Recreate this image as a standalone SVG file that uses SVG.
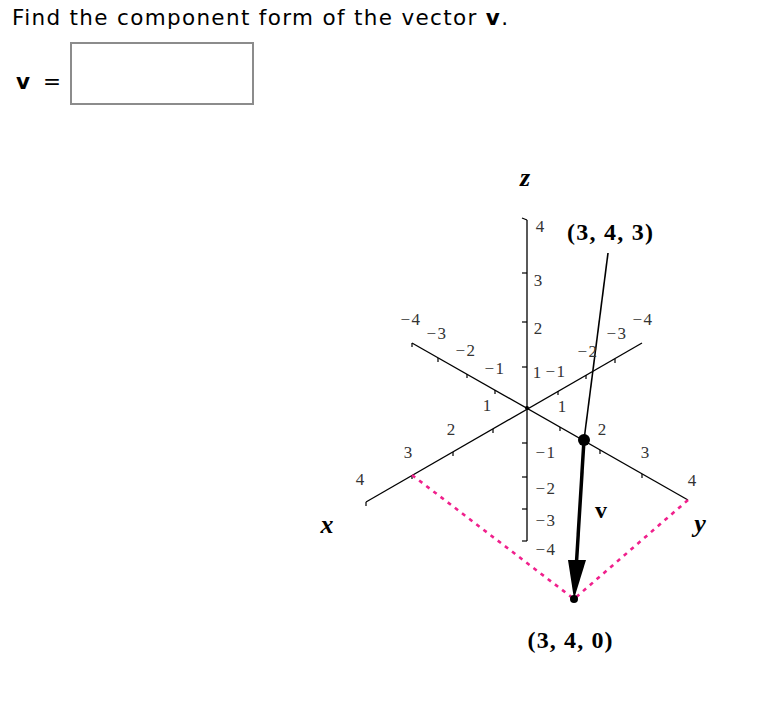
<svg xmlns="http://www.w3.org/2000/svg" width="784" height="706" viewBox="0 0 784 706">
<style>
.hdr{font-family:"DejaVu Sans","Liberation Sans",sans-serif;font-size:21.5px;fill:#000}
.tk{font-family:"Liberation Serif",serif;font-size:17px;fill:#333;text-anchor:middle}
.neg{letter-spacing:1.5px}
.ax{font-family:"Liberation Serif",serif;font-size:26px;font-weight:bold;font-style:italic;fill:#000;text-anchor:middle}
.pt{font-family:"Liberation Serif",serif;font-size:24px;font-weight:bold;fill:#000;text-anchor:middle}
.axis{stroke:#000;stroke-width:1.3;fill:none}
.tick{stroke:#000;stroke-width:1.2}
.pink{stroke:#f0208c;stroke-width:2.6;stroke-dasharray:4 5;fill:none}
</style>
<rect width="784" height="706" fill="#fff"/>
<g id="header">
<text class="hdr" x="12" y="25" textLength="496" lengthAdjust="spacing">Find the component form of the vector <tspan font-weight="bold">v</tspan>.</text>
<text class="hdr" x="16" y="89" font-weight="bold">v</text>
<text class="hdr" x="43" y="89">=</text>
<rect x="71" y="43" width="182" height="61" fill="#fff" stroke="#8c8c8c" stroke-width="2"/>
</g>
<g id="connectors">
<line id="z-axis" class="axis" x1="527" y1="220" x2="527" y2="541"/>
<line id="lineA" class="axis" x1="412" y1="343" x2="688" y2="500"/>
<line id="lineB" class="axis" x1="642" y1="343" x2="366" y2="502"/>
<g id="ticks">
<line class="tick" x1="522" y1="218" x2="527" y2="220"/>
<line class="tick" x1="522" y1="273" x2="527" y2="273"/>
<line class="tick" x1="522" y1="322" x2="527" y2="322"/>
<line class="tick" x1="522" y1="367" x2="527" y2="367"/>
<line class="tick" x1="522" y1="443" x2="527" y2="443"/>
<line class="tick" x1="522" y1="477" x2="527" y2="477"/>
<line class="tick" x1="522" y1="509" x2="527" y2="509"/>
<line class="tick" x1="522" y1="541" x2="527" y2="541"/>
<line class="tick" x1="412" y1="343" x2="412" y2="347"/>
<line class="tick" x1="438" y1="358" x2="438" y2="362"/>
<line class="tick" x1="467" y1="374" x2="467" y2="378"/>
<line class="tick" x1="495" y1="390" x2="495" y2="394"/>
<line class="tick" x1="560" y1="427" x2="560" y2="431"/>
<line class="tick" x1="600" y1="450" x2="600" y2="454"/>
<line class="tick" x1="642" y1="474" x2="642" y2="478"/>
<line class="tick" x1="558" y1="391" x2="558" y2="395"/>
<line class="tick" x1="586" y1="375" x2="586" y2="379"/>
<line class="tick" x1="615" y1="359" x2="615" y2="363"/>
<line class="tick" x1="493" y1="429" x2="493" y2="433"/>
<line class="tick" x1="453" y1="452" x2="453" y2="456"/>
<line class="tick" x1="412" y1="475" x2="412" y2="479"/>
<line class="tick" x1="366" y1="502" x2="366" y2="506"/>
</g>
<line id="pink-x" class="pink" x1="412" y1="475" x2="574" y2="599"/>
<line id="pink-y" class="pink" x1="688" y1="500" x2="574" y2="599"/>
<line id="v-upper" x1="608" y1="253" x2="584" y2="440" stroke="#000" stroke-width="1.6"/>
<line id="v-lower" x1="584" y1="440" x2="576.5" y2="562" stroke="#000" stroke-width="3.5"/>
<polygon id="v-head" points="568,560 586,560 574,599" fill="#000"/>
</g>
<g id="points">
<circle cx="527" cy="408" r="2" fill="#000"/>
<circle cx="584" cy="440" r="6" fill="#000"/>
<circle cx="574" cy="599" r="4" fill="#000"/>
</g>
<g id="labels">
<text class="ax" x="525" y="186">z</text>
<text class="ax" x="327" y="533">x</text>
<text class="ax" x="700" y="532">y</text>
<text class="pt" x="610" y="240" textLength="86" lengthAdjust="spacing">(3, 4, 3)</text>
<text class="pt" x="570" y="648" textLength="85" lengthAdjust="spacing">(3, 4, 0)</text>
<text class="pt" x="601" y="518">v</text>
<text class="tk" x="540" y="232">4</text>
<text class="tk" x="538" y="286">3</text>
<text class="tk" x="538" y="334">2</text>
<text class="tk" x="537" y="378">1</text>
<text class="tk neg" x="546" y="458">−1</text>
<text class="tk neg" x="546" y="494">−2</text>
<text class="tk neg" x="546" y="526">−3</text>
<text class="tk neg" x="546" y="555">−4</text>
<text class="tk neg" x="411" y="325">−4</text>
<text class="tk neg" x="437" y="339">−3</text>
<text class="tk neg" x="466" y="356">−2</text>
<text class="tk neg" x="495" y="374">−1</text>
<text class="tk" x="487" y="411">1</text>
<text class="tk" x="451" y="435">2</text>
<text class="tk" x="408" y="458">3</text>
<text class="tk" x="360" y="485">4</text>
<text class="tk neg" x="556" y="377">−1</text>
<text class="tk neg" x="588" y="357">−2</text>
<text class="tk neg" x="617" y="339">−3</text>
<text class="tk neg" x="643" y="325">−4</text>
<text class="tk" x="562" y="412">1</text>
<text class="tk" x="602" y="435">2</text>
<text class="tk" x="645" y="458">3</text>
<text class="tk" x="692" y="486">4</text>
</g>
</svg>
